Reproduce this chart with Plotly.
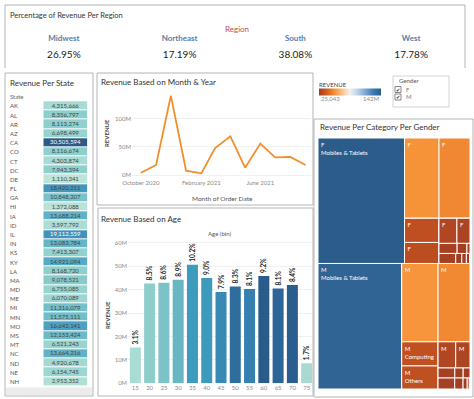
import plotly.graph_objects as go

W, H = 474, 399
def X(px):
    return px / W
def Y(py):
    return 1 - py / H

FONT = "Lato"

# ---------------- data ----------------
regions = ["Midwest", "Northeast", "South", "West"]
region_pct = ["26.95%", "17.19%", "38.08%", "17.78%"]

states = ["AK", "AL", "AR", "AZ", "CA", "CO", "CT", "DC", "DE", "FL", "GA", "HI", "IA", "ID", "IL",
          "IN", "KS", "KY", "LA", "MA", "MD", "ME", "MI", "MN", "MO", "MS", "MT", "NC", "ND", "NE", "NH"]
state_revenue = [4315666, 8356797, 8113274, 6698499, 30505594, 8116674, 4303874, 7943394, 1110341,
                 18420211, 10848207, 1372088, 13688214, 3597792, 19112559, 13083784, 7413307,
                 14921094, 8168720, 9078521, 6755085, 6070089, 11316079, 11575111, 16642141,
                 12153424, 6521243, 13664216, 4920678, 6154745, 2953352]

months = ["2020-10-01", "2020-11-01", "2020-12-01", "2021-01-01", "2021-02-01", "2021-03-01",
          "2021-04-01", "2021-05-01", "2021-06-01", "2021-07-01", "2021-08-01", "2021-09-01"]
month_revenue = [4.1e6, 17.9e6, 141.6e6, 7.7e6, 3.0e6, 48.2e6, 69.0e6, 13.1e6, 56.0e6, 31.6e6, 32.1e6, 17.9e6]
month_ticks = ["2020-10-01", "2021-02-01", "2021-06-01"]

age_bins = ["15", "20", "25", "30", "35", "40", "45", "50", "55", "60", "65", "70", "75"]
age_revenue = [15.3e6, 42.7e6, 43.0e6, 44.3e6, 50.7e6, 45.0e6, 39.0e6, 41.4e6, 40.3e6, 45.9e6, 40.5e6, 42.0e6, 8.6e6]
age_share = ["3.1%", "8.5%", "8.6%", "8.9%", "10.2%", "9.0%", "7.9%", "8.3%", "8.1%", "9.2%", "8.1%", "8.4%", "1.7%"]

genders = ["F", "M"]
categories = ["Mobiles & Tablets", "Appliances", "Entertainment", "Computing", "Others",
              "Men's Fashion", "Women's Fashion", "Superstore", "Beauty & Grooming", "Home & Living",
              "Health & Sports", "Kids & Baby", "Soghaat", "School & Education", "Books"]
rev_female = [142.3e6, 36.3e6, 32.6e6, 10.9e6, 9.5e6, 5.9e6, 4.3e6, 2.4e6, 1.3e6, 0.4e6,
              2.2e6, 0.8e6, 0.6e6, 0.45e6, 25043]
rev_male = [137.7e6, 37.3e6, 32.8e6, 11.5e6, 11.0e6, 6.05e6, 4.9e6, 2.2e6, 1.1e6, 0.9e6,
            2.4e6, 1.2e6, 0.6e6, 0.3e6, 0.1e6]

# ---------------- styles ----------------
blue_teal = [[0, "#bce4d8"], [0.25, "#8ccfcc"], [0.5, "#4fa6c3"], [0.75, "#3479ac"], [1, "#2c5985"]]
orange_blue = [[0, "#9e3d22"], [0.125, "#d45b21"], [0.25, "#f69035"], [0.375, "#fdc38d"],
               [0.5, "#f1f1f1"], [0.625, "#b9d1e8"], [0.75, "#78a8d1"], [0.875, "#3f7ab3"], [1, "#2b5c8a"]]
age_colors = ["#a9dcd2", "#8dcecb", "#7bc3c8", "#68b6c4", "#3d9bbd", "#3e9abd", "#3889b6",
              "#2e6d9e", "#3680b0", "#2a5b8b", "#2d6596", "#2b5e8e", "#a8dad1"]
# treemap tiling structure (nesting only, mimics Tableau's arrangement)
tile_groups = ["Mobiles & Tablets",
               [["Appliances", "Entertainment"],
                [["Computing", "Others"],
                 [["Men's Fashion", "Women's Fashion"],
                  ["Superstore", "Beauty & Grooming", "Home & Living"],
                  ["Health & Sports", "Kids & Baby", "Soghaat", "School & Education", "Books"]]]]]
labelled = {("F", "Mobiles & Tablets"), ("M", "Mobiles & Tablets"), ("M", "Computing"), ("M", "Others")}

GRAY = "#8a8a8a"
DARK = "#333333"

fig = go.Figure()

# ---- KPI row ----
fig.add_trace(go.Scatter(x=regions, y=[0] * len(regions), text=region_pct, mode="text",
                         textfont=dict(family=FONT, size=10, color="#222"),
                         xaxis="x", yaxis="y", hoverinfo="skip", showlegend=False))

# ---- state table ----
fig.add_trace(go.Heatmap(x=["Revenue"], y=states, z=[[v] for v in state_revenue],
                         colorscale=blue_teal, showscale=False, ygap=1,
                         texttemplate="%{z:,}", textfont=dict(family=FONT, size=6),
                         xaxis="x2", yaxis="y2", hoverinfo="skip"))

# ---- line chart ----
fig.add_trace(go.Scatter(x=months, y=month_revenue, mode="lines",
                         line=dict(color="#f28e2b", width=1.8),
                         xaxis="x3", yaxis="y3", hoverinfo="skip", showlegend=False))

# ---- age bars ----
fig.add_trace(go.Bar(x=age_bins, y=age_revenue, text=age_share, textposition="outside",
                     textangle=-90, cliponaxis=False, constraintext="none",
                     textfont=dict(family=FONT, size=6.5, color="#222", weight="bold"),
                     marker=dict(color=age_colors, line=dict(width=0)),
                     xaxis="x4", yaxis="y4", hoverinfo="skip", showlegend=False))

# ---- treemap ----
rev = {"F": dict(zip(categories, rev_female)), "M": dict(zip(categories, rev_male))}
ids, labels, parents, values, colors, texts = ["root"], [""], [""], [0], [0], [""]

def add(node, parent_id, g, path):
    if isinstance(node, str):
        ids.append(g + "/" + node)
        labels.append(node)
        parents.append(parent_id)
        v = rev[g][node]
        values.append(v)
        colors.append(v)
        idx = categories.index(node)
        if (g, node) in labelled:
            texts.append(g + "<br>" + node)
        elif idx < 7:
            texts.append(g)
        else:
            texts.append("")
        return v
    nid = g + "/grp" + path
    ids.append(nid)
    labels.append("")
    parents.append(parent_id)
    values.append(0)
    pos = len(colors)
    colors.append(0)
    texts.append("")
    s = 0
    for k, child in enumerate(node):
        s += add(child, nid, g, path + str(k))
    colors[pos] = s
    return s

for g in genders:
    ids.append(g)
    labels.append(g)
    parents.append("root")
    values.append(0)
    pos = len(colors)
    colors.append(0)
    texts.append("")
    tot = 0
    for k, child in enumerate(tile_groups):
        tot += add(child, g, g, str(k))
    colors[pos] = tot
colors[0] = sum(rev_female) + sum(rev_male)

cmin = min(rev_female + rev_male)
cmax = max(rev_female + rev_male)
fig.add_trace(go.Treemap(
    ids=ids, labels=labels, parents=parents, values=values, branchvalues="remainder",
    text=texts, textinfo="text", textposition="top left", sort=False,
    textfont=dict(family=FONT, size=6, color="white"),
    tiling=dict(packing="dice-slice", pad=0),
    pathbar=dict(visible=False),
    marker=dict(colors=colors, colorscale=orange_blue, cmin=cmin, cmax=cmax,
                showscale=True, depthfade=False,
                pad=dict(t=0, l=0, r=0, b=0), line=dict(color="white", width=1),
                colorbar=dict(orientation="h", x=X(350), xanchor="center", y=Y(91.5),
                              yanchor="middle", len=62, lenmode="pixels", thickness=7,
                              thicknessmode="pixels", showticklabels=False, ticks="",
                              outlinewidth=0, xpad=0, ypad=0)),
    domain=dict(x=[X(318), X(470)], y=[Y(389), Y(138)]),
    hoverinfo="skip"))

# ---------------- axes ----------------
tick_font = dict(family=FONT, size=6, color=GRAY)
fig.update_layout(
    xaxis=dict(domain=[X(6), X(469)], type="category", side="top", anchor="y",
               range=[-0.5, 3.5], automargin=False,
               showgrid=False, zeroline=False, showline=False, ticks="",
               tickfont=dict(family=FONT, size=8, color="#5a7da6", weight="bold")),
    yaxis=dict(domain=[Y(66), Y(44)], range=[-1, 1], visible=False, anchor="x", automargin=False),
    xaxis2=dict(domain=[X(43.3), X(87.3)], visible=False, anchor="y2", automargin=False),
    yaxis2=dict(domain=[Y(386.9), Y(100.4)], autorange="reversed", visible=False, anchor="x2",
                automargin=False),
    xaxis3=dict(domain=[X(132), X(311)], type="date", range=["2020-09-13", "2021-09-12"],
                tickvals=month_ticks, tickformat="%B %Y", tickfont=tick_font, automargin=False,
                showgrid=False, zeroline=False, showline=False, ticks="", anchor="y3"),
    yaxis3=dict(domain=[Y(178), Y(86)], range=[-5.36e6, 158.9e6], automargin=False,
                tickvals=[0, 50e6, 100e6], ticktext=["0M", "50M", "100M"], tickfont=tick_font,
                gridcolor="#f0f0f0", zeroline=False, showline=False, ticks="", anchor="x3"),
    xaxis4=dict(domain=[X(128.2), X(313.8)], type="category", tickfont=tick_font, automargin=False,
                showgrid=False, zeroline=False, showline=False, ticks="", anchor="y4"),
    yaxis4=dict(domain=[Y(383.3), Y(238)], range=[0, 62.1e6], automargin=False,
                tickvals=[0, 10e6, 20e6, 30e6, 40e6, 50e6, 60e6],
                ticktext=["0M", "10M", "20M", "30M", "40M", "50M", "60M"], tickfont=tick_font,
                gridcolor="#f0f0f0", zeroline=False, showline=False, ticks="", anchor="x4"),
    bargap=0.23,
)

# ---------------- annotations ----------------
ann = []
def txt(x, y, s, size=8, color=DARK, xanchor="left", angle=0, weight="normal", family=FONT):
    ann.append(dict(x=X(x), y=Y(y), xref="paper", yref="paper", text=s, showarrow=False,
                    xanchor=xanchor, yanchor="middle", textangle=angle,
                    font=dict(family=family, size=size, color=color, weight=weight)))

txt(8, 15, "Percentage of Revenue Per Region", size=7.5)
txt(237, 29, "Region", size=8, color="#c0504d", xanchor="center")
txt(8, 83, "Revenue Per State", size=8)
txt(8, 96.5, "State", size=6, color="#666")
txt(99, 82, "Revenue Based on Month & Year", size=8)
txt(99, 219, "Revenue Based on Age", size=8)
txt(219, 233, "Age (bin)", size=6, color="#555", xanchor="center")
txt(107, 133, "REVENUE", size=6, color="#444", xanchor="center", angle=-90, weight="bold")
txt(107, 315, "REVENUE", size=6, color="#444", xanchor="center", angle=-90, weight="bold")
txt(222, 198, "Month of Order Date", size=6.5, color="#555", xanchor="center")
txt(318, 127, "Revenue Per Category Per Gender", size=8)
txt(317, 84, "REVENUE", size=6, color="#444")
txt(319, 98.5, "25,043", size=6, color=GRAY)
txt(381, 98.5, "142M", size=6, color=GRAY, xanchor="right")
txt(397, 81, "Gender", size=6, color="#555")
txt(404, 89.5, "F", size=6, color="#777")
txt(404, 97, "M", size=6, color="#777")
txt(398, 89.5, "✔", size=5, color="#222", xanchor="center", family="DejaVu Sans")
txt(398, 97, "✔", size=5, color="#222", xanchor="center", family="DejaVu Sans")

for s in states:
    ann.append(dict(x=X(8), xref="paper", y=s, yref="y2", text=s, showarrow=False,
                    xanchor="left", yanchor="middle", font=dict(family=FONT, size=6, color="#555")))

# ---------------- shapes ----------------
BORDER = dict(color="#b4b4b4", width=1)
shapes = []
def rect(x0, y0, x1, y1, line=BORDER, fill="rgba(0,0,0,0)", layer="above"):
    shapes.append(dict(type="rect", xref="paper", yref="paper", x0=X(x0), x1=X(x1),
                       y0=Y(y1), y1=Y(y0), line=line, fillcolor=fill, layer=layer))

shapes.append(dict(type="path", xref="paper", yref="paper",
                   path=f"M {X(5)} {Y(68)} L {X(5)} {Y(5)} L {X(465)} {Y(5)} L {X(465)} {Y(68)}",
                   line=BORDER))
rect(5, 73, 93, 396)
rect(97, 73, 313, 205)
rect(98, 208, 313, 396)
rect(314, 119, 473, 397)
rect(393, 76, 449, 107, line=dict(color="#c8c8c8", width=0.8))
rect(395, 86.5, 401, 92.5, line=dict(color="#555", width=0.7))
rect(395, 94, 401, 100, line=dict(color="#555", width=0.7))
# table scrollbar
rect(6, 387.5, 92, 395, line=dict(width=0), fill="#ececec")

fig.update_layout(
    width=W, height=H, margin=dict(l=0, r=0, t=0, b=0, autoexpand=False),
    paper_bgcolor="white", plot_bgcolor="white",
    font=dict(family=FONT, size=7, color=DARK),
    showlegend=False, annotations=ann, shapes=shapes,
)

fig.write_html("out.html", config={"displayModeBar": False},
               post_script="document.body.style.margin='0';document.body.style.overflow='hidden';")
